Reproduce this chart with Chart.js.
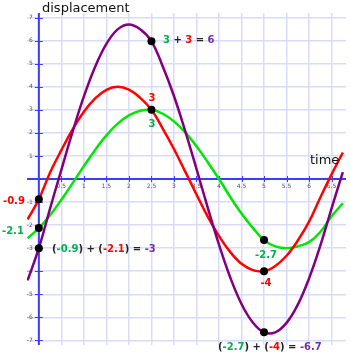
<!DOCTYPE html>
<html>
<head>
<meta charset="utf-8">
<script src="https://cdn.jsdelivr.net/npm/chart.js@4.4.0/dist/chart.umd.min.js"></script>
<style>
body{margin:0;background:#fff;}
#wrap{width:350px;height:355px;}
</style>
</head>
<body>
<div id="wrap"><canvas id="myChart" width="350" height="355"></canvas></div>
<script>
// time samples (x) and the three waves
let times=[-0.25,0,0.25,0.5,0.75,1,1.25,1.5,1.75,2,2.25,2.5,2.75,3,3.25,3.5,3.75,4,4.25,4.5,4.75,5,5.25,5.5,5.75,6,6.25,6.5,6.75];
let greenWave=[-2.57,-2.13,-1.57,-0.90,-0.18,0.56,1.26,1.89,2.40,2.76,2.96,3.00,2.83,2.50,2.02,1.42,0.73,0.00,-0.78,-1.50,-2.12,-2.65,-2.92,-3.00,-2.92,-2.74,-2.30,-1.62,-1.05];
let redWave=[-1.75,-0.88,0.28,1.25,2.15,2.92,3.50,3.87,4.00,3.88,3.52,3.00,2.19,1.30,0.32,-0.67,-1.63,-2.48,-3.17,-3.68,-3.95,-4.00,-3.77,-3.33,-2.67,-1.85,-0.80,0.20,1.15];
let sumWave=[-4.40,-3.00,-1.27,0.40,2.05,3.58,4.87,5.86,6.49,6.70,6.49,5.97,4.89,3.60,2.08,0.44,-1.24,-2.85,-4.27,-5.42,-6.22,-6.65,-6.65,-6.24,-5.45,-4.31,-2.89,-1.27,0.30];

// marked points
let dotTimes=[0,0,0,2.5,2.5,5,5,5];
let dotValues=[-0.88,-2.13,-3,5.97,3,-2.65,-4,-6.65];

// tick labels
let xTickValues=[0.5,1,1.5,2,2.5,3,3.5,4,4.5,5,5.5,6,6.5];
let xTickLabels=["0.5","1","1.5","2","2.5","3","3.5","4","4.5","5","5.5","6","6.5"];
let yTickValues=[7,6,5,4,3,2,1,-1,-2,-3,-4,-5,-6,-7];
let yTickLabels=["7","6","5","4","3","2","1","-1","-2","-3","-4","-5","-6","-7"];

let txtGreen='#00b050', txtRed='#ff0000', txtPurple='#7030a0', txtBlack='#222';
let axisBlue='#3c3cff';

let toPoints=(ys)=>ys.map((y,i)=>({x:times[i],y:y}));

// pieces of coloured text: [text,color]
let notes=[
    {x:163,y:40,align:'left',parts:[["3",txtGreen],[" + ",txtBlack],["3",txtRed],[" = ",txtBlack],["6",txtPurple]]},
    {x:152,y:98,align:'center',parts:[["3",txtRed]]},
    {x:152,y:124,align:'center',parts:[["3",txtGreen]]},
    {x:3,y:201,align:'left',parts:[["-0.9",txtRed]]},
    {x:2,y:231,align:'left',parts:[["-2.1",txtGreen]]},
    {x:52,y:249,align:'left',parts:[["(",txtBlack],["-0.9",txtGreen],[") + (",txtBlack],["-2.1",txtRed],[") = ",txtBlack],["-3",txtPurple]]},
    {x:266,y:255,align:'center',parts:[["-2.7",txtGreen]]},
    {x:266,y:283,align:'center',parts:[["-4",txtRed]]},
    {x:218,y:347,align:'left',parts:[["(",txtBlack],["-2.7",txtGreen],[") + (",txtBlack],["-4",txtRed],[") = ",txtBlack],["-6.7",txtPurple]]}
];

let axisPlugin={
    id:'axisPlugin',
    beforeDatasetsDraw(chart){
        let ctx=chart.ctx, xs=chart.scales.x, ys=chart.scales.y, a=chart.chartArea;
        let x0=xs.getPixelForValue(0), y0=ys.getPixelForValue(0);
        ctx.save();
        ctx.strokeStyle=axisBlue;
        ctx.lineWidth=2;
        ctx.beginPath();
        ctx.moveTo(a.left,y0); ctx.lineTo(a.right,y0);
        ctx.moveTo(x0,a.top); ctx.lineTo(x0,a.bottom);
        ctx.stroke();
        // little tick dashes
        ctx.lineWidth=1;
        ctx.beginPath();
        xTickValues.forEach((v)=>{
            let px=Math.round(xs.getPixelForValue(v))+0.5;
            ctx.moveTo(px,y0-3); ctx.lineTo(px,y0+3);
        });
        yTickValues.forEach((v)=>{
            let py=Math.round(ys.getPixelForValue(v))+0.5;
            ctx.moveTo(x0-4,py); ctx.lineTo(x0+4,py);
        });
        ctx.stroke();
        ctx.fillStyle='#555';
        ctx.font='6px "DejaVu Sans"';
        ctx.textBaseline='middle';
        ctx.textAlign='center';
        xTickValues.forEach((v,i)=>{
            ctx.fillText(xTickLabels[i],xs.getPixelForValue(v),y0+7);
        });
        ctx.textAlign='right';
        yTickValues.forEach((v,i)=>{
            ctx.fillText(yTickLabels[i],x0-6,ys.getPixelForValue(v));
        });
        ctx.restore();
    },
    afterDraw(chart){
        let ctx=chart.ctx;
        ctx.save();
        ctx.fillStyle='#111';
        ctx.font='13px "DejaVu Sans"';
        ctx.textBaseline='alphabetic';
        ctx.textAlign='left';
        ctx.fillText('displacement',42,12);
        ctx.fillText('time',310,164);
        ctx.font='bold 10px "DejaVu Sans"';
        ctx.textBaseline='middle';
        notes.forEach((n)=>{
            let w=n.parts.reduce((s,p)=>s+ctx.measureText(p[0]).width,0);
            let x=n.align=='center'?n.x-w/2:n.x;
            ctx.textAlign='left';
            n.parts.forEach((p)=>{
                ctx.fillStyle=p[1];
                ctx.fillText(p[0],x,n.y);
                x+=ctx.measureText(p[0]).width;
            });
        });
        ctx.restore();
    }
};

let gridColor='#dadafb';

const ctx=document.getElementById('myChart').getContext('2d');
const myChart=new Chart(ctx,{
    type:'line',
    data:{
        datasets:[
            {label:'dots',data:dotValues.map((v,i)=>({x:dotTimes[i],y:v})),showLine:false,pointRadius:4,pointBackgroundColor:'#000',pointBorderColor:'#000',pointBorderWidth:0,order:0},
            {label:'sum',data:toPoints(sumWave),borderColor:'#800080',borderWidth:2.5,pointRadius:0,tension:0.4,fill:false,order:1},
            {label:'red',data:toPoints(redWave),borderColor:'#ff0000',borderWidth:2.5,pointRadius:0,tension:0.4,fill:false,order:2},
            {label:'green',data:toPoints(greenWave),borderColor:'#00e600',borderWidth:2.5,pointRadius:0,tension:0.4,fill:false,order:3}
        ]
    },
    options:{
        responsive:false,
        animation:false,
        layout:{padding:{left:27,right:0,top:13,bottom:10}},
        plugins:{legend:{display:false},tooltip:{enabled:false}},
        scales:{
            x:{
                type:'linear',min:-0.263,max:6.82,
                ticks:{display:false,stepSize:0.5,includeBounds:false},
                grid:{color:gridColor,lineWidth:1.5,drawTicks:false},
                border:{display:false}
            },
            y:{
                type:'linear',min:-7.2,max:7.2,
                ticks:{display:false,stepSize:1,includeBounds:false},
                grid:{color:gridColor,lineWidth:1.5,drawTicks:false},
                border:{display:false}
            }
        }
    },
    plugins:[axisPlugin]
});
</script>
</body>
</html>
